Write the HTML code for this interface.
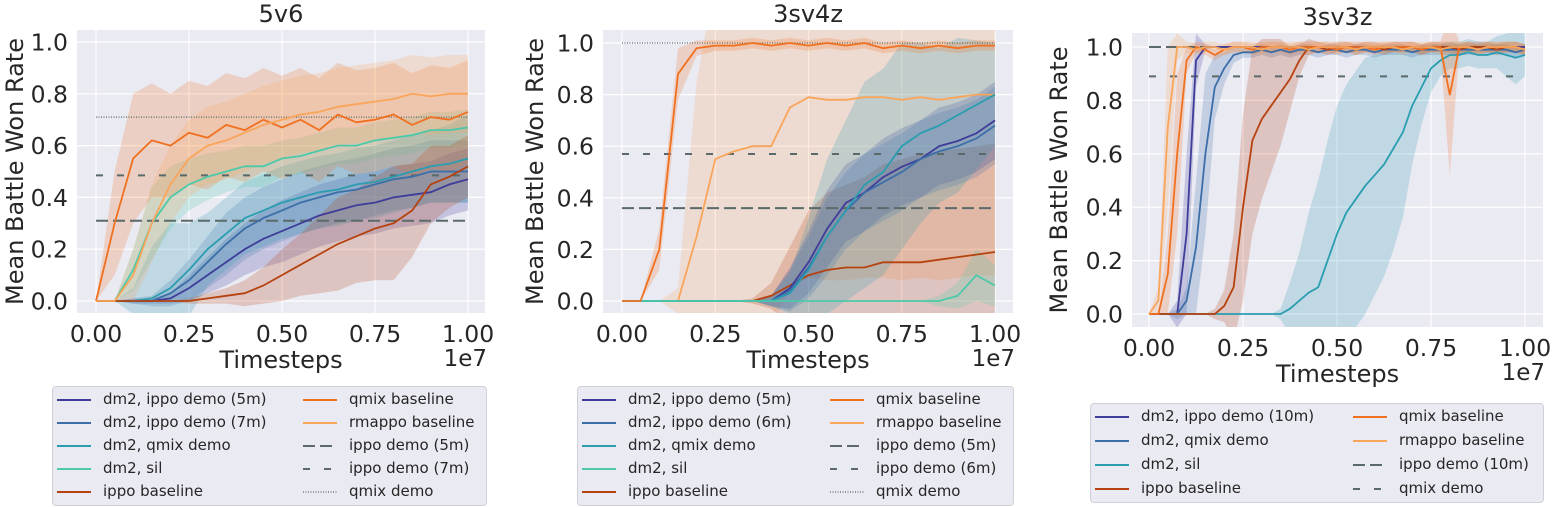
<!DOCTYPE html>
<html><head><meta charset="utf-8">
<style>
body{margin:0;background:#fff;width:1567px;height:507px;overflow:hidden;font-family:"Liberation Sans","DejaVu Sans",sans-serif;}
svg{position:absolute;left:0;top:0}
.leg{position:absolute;background:#eaeaf2;border:1px solid #d0d0d8;border-radius:4px;font-family:"DejaVu Sans","Liberation Sans",sans-serif;font-size:15px;color:#262626}
.li{position:absolute;white-space:nowrap;height:20px;line-height:20px}
.li svg{position:relative;vertical-align:middle;margin-right:12px}
</style></head><body>
<svg id="chart" width="1567" height="507"></svg>

<div class="leg" style="left:52px;top:386px;width:433px;height:118px">
 <div class="li" style="left:4px;top:2px"><svg width="34" height="4"><line x1="0" y1="2" x2="34" y2="2" stroke="#3f3d99" stroke-width="2"/></svg>dm2, ippo demo (5m)</div>
 <div class="li" style="left:4px;top:25px"><svg width="34" height="4"><line x1="0" y1="2" x2="34" y2="2" stroke="#3c6ea8" stroke-width="2"/></svg>dm2, ippo demo (7m)</div>
 <div class="li" style="left:4px;top:48px"><svg width="34" height="4"><line x1="0" y1="2" x2="34" y2="2" stroke="#2a9db0" stroke-width="2"/></svg>dm2, qmix demo</div>
 <div class="li" style="left:4px;top:71px"><svg width="34" height="4"><line x1="0" y1="2" x2="34" y2="2" stroke="#4cc9a8" stroke-width="2"/></svg>dm2, sil</div>
 <div class="li" style="left:4px;top:94px"><svg width="34" height="4"><line x1="0" y1="2" x2="34" y2="2" stroke="#b5420f" stroke-width="2"/></svg>ippo baseline</div>
 <div class="li" style="left:250px;top:2px"><svg width="34" height="4"><line x1="0" y1="2" x2="34" y2="2" stroke="#f07020" stroke-width="2"/></svg>qmix baseline</div>
 <div class="li" style="left:250px;top:25px"><svg width="34" height="4"><line x1="0" y1="2" x2="34" y2="2" stroke="#f9a55a" stroke-width="2"/></svg>rmappo baseline</div>
 <div class="li" style="left:250px;top:48px"><svg width="34" height="4"><line x1="0" y1="2" x2="34" y2="2" stroke="#5a6a6a" stroke-width="2" stroke-dasharray="12,5"/></svg>ippo demo (5m)</div>
 <div class="li" style="left:250px;top:71px"><svg width="34" height="4"><line x1="0" y1="2" x2="34" y2="2" stroke="#5a6a6a" stroke-width="2" stroke-dasharray="7,14"/></svg>ippo demo (7m)</div>
 <div class="li" style="left:250px;top:94px"><svg width="34" height="4"><line x1="0" y1="2" x2="34" y2="2" stroke="#5a6a6a" stroke-width="1.3" stroke-dasharray="1,1.5"/></svg>qmix demo</div>
</div>

<div class="leg" style="left:577px;top:386px;width:435px;height:118px">
 <div class="li" style="left:4px;top:2px"><svg width="34" height="4"><line x1="0" y1="2" x2="34" y2="2" stroke="#3f3d99" stroke-width="2"/></svg>dm2, ippo demo (5m)</div>
 <div class="li" style="left:4px;top:25px"><svg width="34" height="4"><line x1="0" y1="2" x2="34" y2="2" stroke="#3c6ea8" stroke-width="2"/></svg>dm2, ippo demo (6m)</div>
 <div class="li" style="left:4px;top:48px"><svg width="34" height="4"><line x1="0" y1="2" x2="34" y2="2" stroke="#2a9db0" stroke-width="2"/></svg>dm2, qmix demo</div>
 <div class="li" style="left:4px;top:71px"><svg width="34" height="4"><line x1="0" y1="2" x2="34" y2="2" stroke="#4cc9a8" stroke-width="2"/></svg>dm2, sil</div>
 <div class="li" style="left:4px;top:94px"><svg width="34" height="4"><line x1="0" y1="2" x2="34" y2="2" stroke="#b5420f" stroke-width="2"/></svg>ippo baseline</div>
 <div class="li" style="left:252px;top:2px"><svg width="34" height="4"><line x1="0" y1="2" x2="34" y2="2" stroke="#f07020" stroke-width="2"/></svg>qmix baseline</div>
 <div class="li" style="left:252px;top:25px"><svg width="34" height="4"><line x1="0" y1="2" x2="34" y2="2" stroke="#f9a55a" stroke-width="2"/></svg>rmappo baseline</div>
 <div class="li" style="left:252px;top:48px"><svg width="34" height="4"><line x1="0" y1="2" x2="34" y2="2" stroke="#5a6a6a" stroke-width="2" stroke-dasharray="12,5"/></svg>ippo demo (5m)</div>
 <div class="li" style="left:252px;top:71px"><svg width="34" height="4"><line x1="0" y1="2" x2="34" y2="2" stroke="#5a6a6a" stroke-width="2" stroke-dasharray="7,14"/></svg>ippo demo (6m)</div>
 <div class="li" style="left:252px;top:94px"><svg width="34" height="4"><line x1="0" y1="2" x2="34" y2="2" stroke="#5a6a6a" stroke-width="1.3" stroke-dasharray="1,1.5"/></svg>qmix demo</div>
</div>

<div class="leg" style="left:1090px;top:403px;width:452px;height:98px">
 <div class="li" style="left:4px;top:2px"><svg width="34" height="4"><line x1="0" y1="2" x2="34" y2="2" stroke="#3f3d99" stroke-width="2"/></svg>dm2, ippo demo (10m)</div>
 <div class="li" style="left:4px;top:26px"><svg width="34" height="4"><line x1="0" y1="2" x2="34" y2="2" stroke="#3c6ea8" stroke-width="2"/></svg>dm2, qmix demo</div>
 <div class="li" style="left:4px;top:50px"><svg width="34" height="4"><line x1="0" y1="2" x2="34" y2="2" stroke="#2a9db0" stroke-width="2"/></svg>dm2, sil</div>
 <div class="li" style="left:4px;top:74px"><svg width="34" height="4"><line x1="0" y1="2" x2="34" y2="2" stroke="#b5420f" stroke-width="2"/></svg>ippo baseline</div>
 <div class="li" style="left:262px;top:2px"><svg width="34" height="4"><line x1="0" y1="2" x2="34" y2="2" stroke="#f07020" stroke-width="2"/></svg>qmix baseline</div>
 <div class="li" style="left:262px;top:26px"><svg width="34" height="4"><line x1="0" y1="2" x2="34" y2="2" stroke="#f9a55a" stroke-width="2"/></svg>rmappo baseline</div>
 <div class="li" style="left:262px;top:50px"><svg width="34" height="4"><line x1="0" y1="2" x2="34" y2="2" stroke="#5a6a6a" stroke-width="2" stroke-dasharray="12,5"/></svg>ippo demo (10m)</div>
 <div class="li" style="left:262px;top:74px"><svg width="34" height="4"><line x1="0" y1="2" x2="34" y2="2" stroke="#5a6a6a" stroke-width="2" stroke-dasharray="7,14"/></svg>qmix demo</div>
</div>

<script>
const xTicks = [0, 0.25, 0.5, 0.75, 1.0];
const xTickLabels = ["0.00", "0.25", "0.50", "0.75", "1.00"];
const yTicks = [0, 0.2, 0.4, 0.6, 0.8, 1.0];
const yTickLabels = ["0.0", "0.2", "0.4", "0.6", "0.8", "1.0"];

// ---------- panel 1: 5v6 ----------
const p1X = [0,0.05,0.1,0.15,0.2,0.25,0.3,0.35,0.4,0.45,0.5,0.55,0.6,0.65,0.7,0.75,0.8,0.85,0.9,0.95,1.0];
const p1Qmix   = [0,0.3,0.55,0.62,0.6,0.65,0.63,0.68,0.66,0.7,0.67,0.7,0.66,0.72,0.69,0.7,0.72,0.68,0.71,0.7,0.73];
const p1QmixS  = [0,0.2,0.25,0.22,0.2,0.2,0.2,0.2,0.2,0.2,0.2,0.2,0.2,0.2,0.2,0.2,0.2,0.2,0.2,0.2,0.2];
const p1Rmappo = [0,0,0.1,0.3,0.45,0.55,0.6,0.62,0.65,0.68,0.7,0.72,0.73,0.75,0.76,0.77,0.78,0.8,0.79,0.8,0.8];
const p1RmappoS= [0,0,0.1,0.15,0.15,0.15,0.15,0.15,0.15,0.15,0.15,0.15,0.15,0.15,0.15,0.15,0.15,0.15,0.15,0.15,0.15];
const p1Sil    = [0,0,0.12,0.3,0.4,0.45,0.48,0.5,0.52,0.52,0.55,0.56,0.58,0.6,0.6,0.62,0.63,0.64,0.66,0.66,0.67];
const p1SilS   = [0,0,0.08,0.14,0.12,0.1,0.09,0.08,0.08,0.08,0.07,0.07,0.07,0.07,0.07,0.07,0.07,0.07,0.07,0.07,0.07];
const p1QDemo  = [0,0,0,0.01,0.05,0.12,0.2,0.26,0.32,0.35,0.38,0.4,0.42,0.43,0.45,0.46,0.48,0.5,0.52,0.53,0.55];
const p1QDemoS = [0,0,0.05,0.2,0.25,0.18,0.14,0.14,0.14,0.14,0.14,0.14,0.14,0.14,0.14,0.14,0.14,0.14,0.14,0.15,0.17];
const p1Ippo7  = [0,0,0,0,0.03,0.08,0.15,0.22,0.28,0.32,0.35,0.38,0.4,0.42,0.43,0.45,0.47,0.48,0.5,0.5,0.5];
const p1Ippo7S = [0,0,0.01,0.02,0.05,0.08,0.1,0.12,0.12,0.12,0.12,0.12,0.12,0.12,0.12,0.12,0.12,0.12,0.12,0.12,0.12];
const p1Ippo5  = [0,0,0,0,0.01,0.05,0.1,0.15,0.2,0.24,0.27,0.3,0.33,0.35,0.37,0.38,0.4,0.41,0.42,0.45,0.47];
const p1Ippo5S = [0,0,0.01,0.01,0.02,0.05,0.07,0.09,0.1,0.11,0.12,0.12,0.12,0.12,0.12,0.12,0.12,0.12,0.12,0.12,0.12];
const p1IppoB  = [0,0,0,0,0,0,0.01,0.02,0.03,0.06,0.1,0.14,0.18,0.22,0.25,0.28,0.3,0.35,0.45,0.48,0.52];
const p1IppoBS = [0,0,0,0,0,0.01,0.02,0.03,0.05,0.07,0.1,0.12,0.15,0.18,0.18,0.2,0.22,0.18,0.15,0.12,0.12];
const p1HLines = [0.31, 0.485, 0.71];

// ---------- panel 2: 3sv4z ----------
const p2X = [0,0.05,0.1,0.15,0.2,0.25,0.3,0.35,0.4,0.45,0.5,0.55,0.6,0.65,0.7,0.75,0.8,0.85,0.9,0.95,1.0];
const p2Qmix   = [0,0,0.2,0.88,0.98,0.99,0.99,1,0.99,1,0.99,1,0.99,1,0.98,0.99,0.98,0.99,0.98,0.99,0.99];
const p2QmixS  = [0,0,0.08,0.1,0.03,0.02,0.02,0.02,0.02,0.02,0.02,0.02,0.02,0.02,0.02,0.02,0.02,0.02,0.02,0.02,0.02];
const p2Rmappo = [0,0,0,0,0.25,0.55,0.58,0.6,0.6,0.75,0.79,0.78,0.78,0.79,0.79,0.78,0.79,0.78,0.79,0.8,0.8];
const p2RmappoS= [0,0,0,0.05,0.6,0.7,0.7,0.7,0.7,0.7,0.7,0.7,0.7,0.7,0.7,0.7,0.7,0.7,0.7,0.7,0.7];
const p2IppoB  = [0,0,0,0,0,0,0,0,0.02,0.06,0.1,0.12,0.13,0.13,0.15,0.15,0.15,0.16,0.17,0.18,0.19];
const p2IppoBS = [0,0,0,0,0,0,0,0.01,0.05,0.15,0.25,0.3,0.32,0.35,0.38,0.4,0.42,0.42,0.42,0.42,0.42];
const p2Ippo5  = [0,0,0,0,0,0,0,0,0,0.05,0.15,0.28,0.38,0.42,0.48,0.52,0.55,0.6,0.62,0.65,0.7];
const p2Ippo5S = [0,0,0,0,0,0,0,0,0.02,0.08,0.12,0.15,0.15,0.15,0.15,0.15,0.15,0.15,0.15,0.15,0.15];
const p2Ippo6  = [0,0,0,0,0,0,0,0,0,0.04,0.13,0.25,0.35,0.42,0.46,0.5,0.55,0.58,0.6,0.63,0.68];
const p2Ippo6S = [0,0,0,0,0,0,0,0,0.02,0.08,0.12,0.15,0.15,0.15,0.15,0.15,0.15,0.15,0.15,0.15,0.15];
const p2QDemo  = [0,0,0,0,0,0,0,0,0,0.03,0.12,0.25,0.35,0.45,0.5,0.6,0.65,0.68,0.72,0.76,0.8];
const p2QDemoS = [0,0,0,0,0,0,0,0,0.02,0.08,0.2,0.3,0.35,0.4,0.4,0.4,0.35,0.3,0.3,0.25,0.2];
const p2Sil    = [0,0,0,0,0,0,0,0,0,0,0,0,0,0,0,0,0,0,0.02,0.1,0.06];
const p2SilS   = [0,0,0,0,0,0,0,0,0,0,0,0,0,0,0,0,0,0.02,0.05,0.1,0.08];
const p2HLines = [0.36, 0.57, 1.0];

// ---------- panel 3: 3sv3z ----------
const p3X = [0,0.025,0.05,0.075,0.1,0.125,0.15,0.175,0.2,0.225,0.25,0.275,0.3,0.325,0.35,0.375,0.4,0.425,0.45,0.475,0.5,0.525,0.55,0.575,0.6,0.625,0.65,0.675,0.7,0.725,0.75,0.775,0.8,0.825,0.85,0.875,0.9,0.925,0.95,0.975,1.0];
const p3Rmappo = [0,0.05,0.7,1,1,0.99,1,1,0.99,1,1,1,0.99,1,1,1,1,0.99,1,1,1,1,0.99,1,1,1,1,0.99,1,1,1,0.99,1,1,1,0.99,1,1,1,1,0.99];
const p3RmappoS= [0,0.05,0.3,0.05,0.02,0.02,0.02,0.02,0.02,0.02,0.02,0.02,0.02,0.02,0.02,0.02,0.02,0.02,0.02,0.02,0.02,0.02,0.02,0.02,0.02,0.02,0.02,0.02,0.02,0.02,0.02,0.02,0.02,0.02,0.02,0.02,0.02,0.02,0.02,0.02,0.02];
const p3Qmix   = [0,0,0.15,0.6,0.95,1,0.99,0.97,0.99,1,1,0.99,1,1,1,0.99,1,1,1,1,0.99,1,1,1,0.99,1,1,1,1,0.99,1,1,0.82,1,1,0.99,1,1,1,1,0.99];
const p3QmixS  = [0,0,0.15,0.3,0.05,0.02,0.02,0.02,0.02,0.02,0.02,0.02,0.02,0.02,0.02,0.02,0.02,0.02,0.02,0.02,0.02,0.02,0.02,0.02,0.02,0.02,0.02,0.02,0.02,0.02,0.02,0.02,0.3,0.02,0.02,0.02,0.02,0.02,0.02,0.02,0.02];
const p3Ippo10 = [0,0,0,0,0.3,0.95,1,1,1,1,1,1,1,1,1,1,1,1,1,1,1,1,1,1,1,1,1,1,1,1,1,1,1,1,1,1,1,1,1,1,1];
const p3Ippo10S= [0,0,0,0.05,0.3,0.1,0.01,0,0,0,0,0,0,0,0,0,0,0,0,0,0,0,0,0,0,0,0,0,0,0,0,0,0,0,0,0,0,0,0,0,0];
const p3QDemo  = [0,0,0,0,0.05,0.25,0.6,0.85,0.92,0.97,0.98,0.98,0.99,0.98,0.99,0.98,0.99,0.99,0.98,0.99,0.99,0.98,0.99,0.99,0.98,0.99,0.99,0.99,0.98,0.99,0.99,0.99,0.99,0.99,0.99,0.99,0.99,0.99,0.99,0.98,0.99];
const p3QDemoS = [0,0,0,0.02,0.05,0.25,0.3,0.12,0.06,0.03,0.02,0.02,0.02,0.02,0.02,0.02,0.02,0.02,0.02,0.02,0.02,0.02,0.02,0.02,0.02,0.02,0.02,0.02,0.02,0.02,0.02,0.02,0.02,0.02,0.02,0.02,0.02,0.02,0.02,0.02,0.02];
const p3IppoB  = [0,0,0,0,0,0,0,0,0.03,0.1,0.4,0.65,0.73,0.78,0.83,0.88,0.95,1,1,0.99,1,1,0.99,1,1,0.99,1,1,1,0.99,1,1,1,0.99,1,1,1,0.99,1,1,0.99];
const p3IppoBS = [0,0,0,0,0,0,0,0.02,0.06,0.2,0.35,0.35,0.3,0.25,0.2,0.12,0.06,0.03,0.02,0.02,0.02,0.02,0.02,0.02,0.02,0.02,0.02,0.02,0.02,0.02,0.02,0.02,0.02,0.02,0.02,0.02,0.02,0.02,0.02,0.02,0.02];
const p3Sil    = [0,0,0,0,0,0,0,0,0,0,0,0,0,0,0,0.02,0.05,0.08,0.1,0.2,0.3,0.38,0.43,0.48,0.52,0.56,0.62,0.68,0.78,0.85,0.92,0.95,0.97,0.97,0.98,0.97,0.97,0.98,0.97,0.96,0.97];
const p3SilS   = [0,0,0,0,0,0,0,0,0,0,0,0,0,0,0.02,0.1,0.18,0.3,0.4,0.45,0.48,0.48,0.48,0.48,0.45,0.42,0.38,0.32,0.22,0.14,0.09,0.06,0.05,0.05,0.05,0.05,0.05,0.06,0.08,0.1,0.08];
const p3HLines = [1.0, 0.89];

const C = {p5:"#3f3d99", p7:"#3c6ea8", qd:"#2a9db0", sil:"#4cc9a8", ib:"#b5420f", qm:"#f07020", rm:"#f9a55a", dl:"#5a6a6a"};
const NS = "http://www.w3.org/2000/svg";
const svg = document.getElementById('chart');
function mk(tag, attrs, parent){ const e=document.createElementNS(NS,tag); for(const k in attrs) e.setAttribute(k,attrs[k]); (parent||svg).appendChild(e); return e; }
const FF = 'DejaVu Sans, Liberation Sans, sans-serif';

function panel(id, g, title, xs, series, hlines, dashes){
  const sx = v => g.x0 + v*(g.x1-g.x0);
  const sy = v => g.y0 + v*(g.y1-g.y0);
  const grp = mk('g',{});
  
  
  const bg = mk('rect',{x:g.l,y:g.t,width:g.r-g.l,height:g.b-g.t,fill:'#eaeaf2'},grp);
  
  
  const cp = mk('clipPath',{id:'clip'+id},grp);
  mk('rect',{x:g.l,y:g.t,width:g.r-g.l,height:g.b-g.t},cp);
  xTicks.forEach((t,i)=>{
    const gl = mk('line',{x1:sx(t),x2:sx(t),y1:g.t,y2:g.b,stroke:'#fff','stroke-width':1.2},grp);
    
    
    const tl = mk('text',{x:sx(t),y:g.b+29,'text-anchor':'middle','font-size':23.5,fill:'#262626','font-family':FF},grp);
    tl.textContent = xTickLabels[i];
    
    
  });
  yTicks.forEach((t,i)=>{
    const gl = mk('line',{x1:g.l,x2:g.r,y1:sy(t),y2:sy(t),stroke:'#fff','stroke-width':1.2},grp);
    
    
    const tl = mk('text',{x:g.l-9,y:sy(t)+8.5,'text-anchor':'end','font-size':23.5,fill:'#262626','font-family':FF},grp);
    tl.textContent = yTickLabels[i];
    
    
  });
  const inner = mk('g',{'clip-path':'url(#clip'+id+')'},grp);
  series.forEach(s=>{
    let up='', lo='';
    xs.forEach((x,i)=>{ up += (i?'L':'M')+sx(x).toFixed(1)+','+sy(s.m[i]+s.s[i]).toFixed(1); });
    for(let i=xs.length-1;i>=0;i--){ lo += 'L'+sx(xs[i]).toFixed(1)+','+sy(s.m[i]-s.s[i]).toFixed(1); }
    const band = mk('path',{d:up+lo+'Z',fill:s.c,'fill-opacity':0.22,stroke:'none'},inner);
    
    
  });
  hlines.forEach((h,i)=>{
    const l = mk('line',{x1:sx(0),x2:sx(1),y1:sy(h),y2:sy(h),stroke:C.dl,'stroke-width':dashes[i][1],'stroke-dasharray':dashes[i][0]},inner);
    
    
  });
  series.forEach(s=>{
    let d='';
    xs.forEach((x,i)=>{ d += (i?'L':'M')+sx(x).toFixed(1)+','+sy(s.m[i]).toFixed(1); });
    const p = mk('path',{d:d,fill:'none',stroke:s.c,'stroke-width':1.8},inner);
    
    
  });
  const tt = mk('text',{x:(g.l+g.r)/2,y:g.t-8,'text-anchor':'middle','font-size':24,fill:'#262626','font-family':FF},grp);
  tt.textContent = title;
  
  
  const xl = mk('text',{x:(g.l+g.r)/2,y:g.b+55,'text-anchor':'middle','font-size':24,fill:'#262626','font-family':FF},grp);
  xl.textContent = 'Timesteps';
  
  
  const ex = mk('text',{x:g.r+2,y:g.b+53,'text-anchor':'end','font-size':23,fill:'#262626','font-family':FF},grp);
  ex.textContent = '1e7';
  
  
  const yl = mk('text',{x:0,y:0,'text-anchor':'middle','font-size':24,fill:'#262626','font-family':FF,transform:'translate('+g.yl+','+((g.t+g.b)/2)+') rotate(-90)'},grp);
  yl.textContent = 'Mean Battle Won Rate';
  
  
}

const dashA = [["12,5",2],["7,14",2],["1,1.5",1.3]];
panel('5v6',{l:77,r:485,t:30,b:313,x0:96,x1:468,y0:301,y1:42,yl:23},'5v6',p1X,[
  {n:'dm2-ippo-5m',c:C.p5,m:p1Ippo5,s:p1Ippo5S},
  {n:'dm2-ippo-7m',c:C.p7,m:p1Ippo7,s:p1Ippo7S},
  {n:'dm2-qmix-demo',c:C.qd,m:p1QDemo,s:p1QDemoS},
  {n:'dm2-sil',c:C.sil,m:p1Sil,s:p1SilS},
  {n:'ippo-baseline',c:C.ib,m:p1IppoB,s:p1IppoBS},
  {n:'qmix-baseline',c:C.qm,m:p1Qmix,s:p1QmixS},
  {n:'rmappo-baseline',c:C.rm,m:p1Rmappo,s:p1RmappoS}],p1HLines,dashA);
panel('3sv4z',{l:603,r:1013,t:30,b:313,x0:622,x1:995,y0:301,y1:43,yl:543},'3sv4z',p2X,[
  {n:'rmappo-baseline',c:C.rm,m:p2Rmappo,s:p2RmappoS},
  {n:'ippo-baseline',c:C.ib,m:p2IppoB,s:p2IppoBS},
  {n:'dm2-ippo-5m',c:C.p5,m:p2Ippo5,s:p2Ippo5S},
  {n:'dm2-ippo-6m',c:C.p7,m:p2Ippo6,s:p2Ippo6S},
  {n:'dm2-qmix-demo',c:C.qd,m:p2QDemo,s:p2QDemoS},
  {n:'dm2-sil',c:C.sil,m:p2Sil,s:p2SilS},
  {n:'qmix-baseline',c:C.qm,m:p2Qmix,s:p2QmixS}],p2HLines,dashA);
panel('3sv3z',{l:1132,r:1543,t:33,b:327,x0:1149,x1:1525,y0:314,y1:47,yl:1067},'3sv3z',p3X,[
  {n:'dm2-ippo-10m',c:C.p5,m:p3Ippo10,s:p3Ippo10S},
  {n:'dm2-qmix-demo',c:C.p7,m:p3QDemo,s:p3QDemoS},
  {n:'dm2-sil',c:C.qd,m:p3Sil,s:p3SilS},
  {n:'ippo-baseline',c:C.ib,m:p3IppoB,s:p3IppoBS},
  {n:'qmix-baseline',c:C.qm,m:p3Qmix,s:p3QmixS},
  {n:'rmappo-baseline',c:C.rm,m:p3Rmappo,s:p3RmappoS}],p3HLines,[["12,5",2],["7,14",2]]);
</script>
</body></html>
